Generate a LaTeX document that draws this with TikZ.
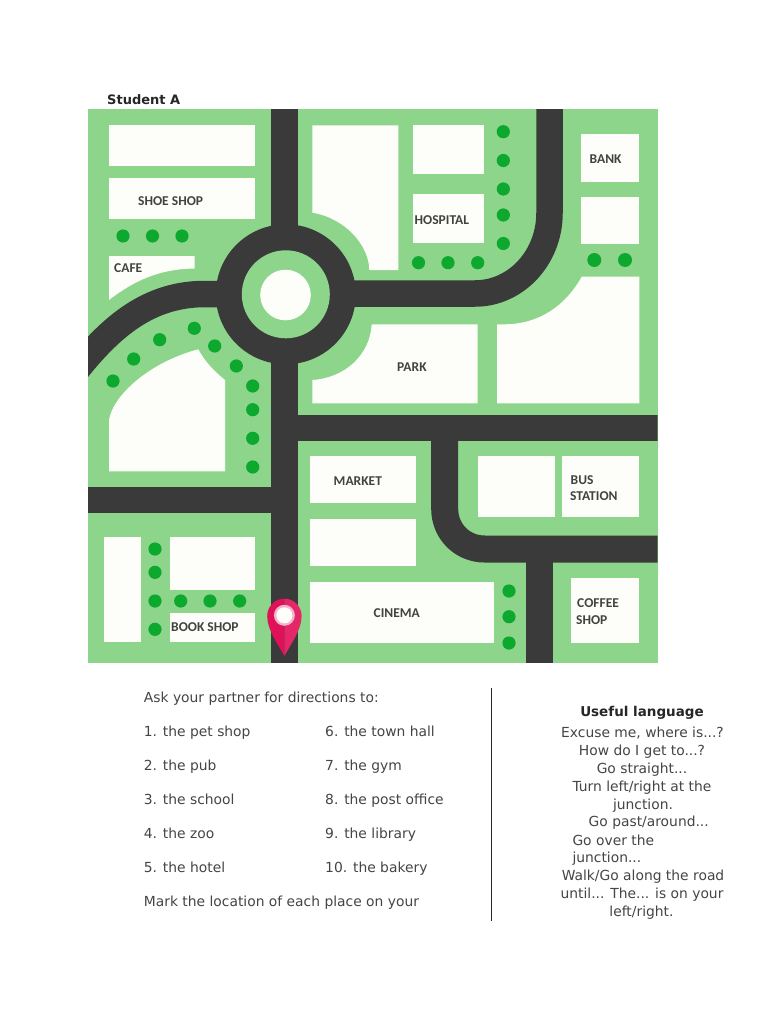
\documentclass[tikz,border=0pt]{standalone}
\usepackage{fontspec}
\setmainfont{DejaVu Sans}
\newfontfamily\lblfont{Carlito}
\definecolor{mapgreen}{HTML}{8DD58A}
\definecolor{road}{HTML}{3A3A3A}
\definecolor{tree}{HTML}{0DA82E}
\definecolor{plot}{HTML}{FDFEFA}
\definecolor{bodytxt}{HTML}{454545}
\definecolor{pinA}{HTML}{DF1259}
\definecolor{pinB}{HTML}{E52669}
\definecolor{pinring}{HTML}{F2B5CC}
\tikzset{
  x=1pt,y=-1pt,
  plotshape/.style={fill=plot,draw=none},
  roadline/.style={draw=road,line width=26.5pt},
  treedot/.style={fill=tree,draw=none},
  lbl/.style={anchor=base west,inner sep=0pt,text=black!74,font=\lblfont\bfseries\fontsize{13.5}{16}\selectfont},
  body/.style={anchor=base west,inner sep=0pt,text=bodytxt,font=\fontsize{13.85}{16}\selectfont},
  cbody/.style={body,anchor=base},
}
\begin{document}
\begin{tikzpicture}
\useasboundingbox[fill=white] (0,0) rectangle (768,1024);
\fill[mapgreen] (88,109.5) rectangle (657.5,662.8);
\begin{scope}
\clip (88,109.5) rectangle (657.5,662.8);
% roads
\draw[roadline,line width=27pt] (284.5,100) -- (284.5,670);
\draw[roadline] (280,294) -- (205,294) .. controls (150,294) and (112,325) .. (75,372);
\draw[roadline] (290,293.5) -- (475,293.5) .. controls (516,293.5) and (549.5,257.5) .. (549.5,213) -- (549.5,100);
\draw[roadline] (284,428.2) -- (670,428.2);
\draw[roadline] (80,500) -- (284,500);
\draw[roadline,line width=27pt] (444.7,428) -- (444.7,509) .. controls (444.7,531) and (462,549) .. (484.7,549) -- (670,549);
\draw[roadline,line width=27pt] (539.4,549) -- (539.4,670);
\end{scope}
% roundabout
\fill[road] (285.8,294.3) circle (70);
\fill[mapgreen] (285.8,294.3) circle (44);
\fill[plot] (285.5,295) circle (25.3);
% plots
\fill[plotshape] (109,125) rectangle (255,166);
\fill[plotshape] (109,178.5) rectangle (255,219);
\fill[plotshape] (109,256) -- (194.5,256) -- (194.5,268.5) .. controls (160,269) and (135,280) .. (109,300) -- cycle;
\fill[plotshape] (312.3,125.5) -- (398.3,125.5) -- (398.3,270) -- (369.3,270) .. controls (369,245) and (345,218) .. (312.3,212.7) -- cycle;
\fill[plotshape] (412.7,125) rectangle (483.7,174);
\fill[plotshape] (412.7,193.7) rectangle (483.7,242.7);
\fill[plotshape] (581.3,134.3) rectangle (639.3,181.7);
\fill[plotshape] (581.3,197) rectangle (639.3,243.7);
\fill[plotshape] (581.7,276.7) -- (639.3,276.7) -- (639.3,403.3) -- (497,403.3) -- (497,324.3) -- (505,324.3) .. controls (540,324) and (566,305) .. cycle;
\fill[plotshape] (312.3,380) .. controls (345,378) and (370,355) .. (371.7,324.3) -- (477.7,324.3) -- (477.7,403.3) -- (312.3,403.3) -- cycle;
\fill[plotshape] (109,471.3) -- (109,420) .. controls (113,395) and (150,362) .. (198.3,349.3) .. controls (205,362) and (215,372) .. (225,380) -- (225,471.3) -- cycle;
\fill[plotshape] (104.3,537) rectangle (140.7,642);
\fill[plotshape] (170.3,537) rectangle (255,590);
\fill[plotshape] (170.3,613) rectangle (255,642);
\fill[plotshape] (310,456) rectangle (416.3,503);
\fill[plotshape] (310,519) rectangle (416.3,566);
\fill[plotshape] (310,582.3) rectangle (494,643.3);
\fill[plotshape] (477.7,456) rectangle (555,517);
\fill[plotshape] (562,456) rectangle (639.3,517);
\fill[plotshape] (571,578) rectangle (639.3,643.3);
% trees
\foreach \px/\py in {123/236,152.5/236,182/236,
  503.3/131.7,503.3/160.5,503.3/189,503.3/215,503.3/243.5,
  418.5/262.7,448/262.7,477.7/262.7,
  113/381,133.7/359,159.7/339.7,194.3/328.3,214.7/346,236.3/366,
  252.7/386,252.7/409.7,252.7/438.3,252.7/467,
  155/549,155/572.3,155/601,155/629.3,180.7/601,210/601,239.7/601,
  509/591,509/616.7,509/643}
  \fill[treedot] (\px,\py) circle (6.6);
\fill[treedot] (594.3,260) circle (7);
\fill[treedot] (625,260) circle (7);
% pin
\fill[pinA] (284.4,656) .. controls (278,644) and (267.2,630) .. (267.2,616) .. controls (267.2,606.5) and (274.8,598.7) .. (284.4,598.7) -- cycle;
\fill[pinB] (284.4,656) .. controls (290.8,644) and (301.6,630) .. (301.6,616) .. controls (301.6,606.5) and (294,598.7) .. (284.4,598.7) -- cycle;
\fill[pinring] (284.4,615.3) circle (10.5);
\fill[plot] (284.4,615.3) circle (8);
% labels
\node[anchor=base west,inner sep=0pt,text=black!85,font=\bfseries\fontsize{13}{16}\selectfont] (title) at (107,104.5) {Student A};
\node[lbl] (lshoe) at (138,205.5) {SHOE SHOP};
\node[lbl] (lcafe) at (114,272.5) {CAFE};
\node[lbl] (lhosp) at (414.5,225) {HOSPITAL};
\node[lbl] (lbank) at (589.5,163.5) {BANK};
\node[lbl] (lpark) at (397,371) {PARK};
\node[lbl] (lmarket) at (333.5,485.5) {MARKET};
\node[lbl] (lbus) at (570.5,484) {BUS};
\node[lbl] (lstation) at (570,500) {STATION};
\node[lbl] (lcinema) at (373.5,617) {CINEMA};
\node[lbl] (lcoffee) at (577,607.5) {COFFEE};
\node[lbl] (lshop) at (576,624) {SHOP};
\node[lbl] (lbook) at (171,631.5) {BOOK SHOP};
% exercise text
\node[body] (ask) at (143.7,702) {Ask your partner for directions to:};
\node[body] (i1) at (143.7,736.7) {1. the pet shop};
\node[body] (i2) at (143.7,770.5) {2. the pub};
\node[body] (i3) at (143.7,804.7) {3. the school};
\node[body] (i4) at (143.7,838.7) {4. the zoo};
\node[body] (i5) at (143.7,872.7) {5. the hotel};
\node[body] (i6) at (325,736.7) {6. the town hall};
\node[body] (i7) at (325,770.5) {7. the gym};
\node[body] (i8) at (325,804.7) {8. the post office};
\node[body] (i9) at (325,838.7) {9. the library};
\node[body] (i10) at (325,872.7) {10. the bakery};
\node[body] (mark) at (143.7,906.7) {Mark the location of each place on your};
% divider
\coordinate (divtop) at (491.3,688);
\coordinate (divbot) at (491.3,921);
\draw[line width=1pt,black!85] (divtop) -- (divbot);
% useful language
\node[cbody,text=black!85,font=\bfseries\fontsize{13.5}{16}\selectfont] (ul) at (642,716) {Useful language};
\node[cbody] (u1) at (642.5,737.5) {Excuse me, where is...?};
\node[cbody] (u2) at (642,755) {How do I get to...?};
\node[cbody] (u3) at (642,773.7) {Go straight...};
\node[cbody] (u4) at (642,791) {Turn left/right at the};
\node[cbody] (u5) at (643,809) {junction.};
\node[cbody] (u6) at (648.7,826) {Go past/around...};
\node[body] (u7) at (572.3,845) {Go over the};
\node[body] (u8) at (572.3,862.3) {junction...};
\node[cbody] (u9) at (643,880.7) {Walk/Go along the road};
\node[cbody] (u10) at (642,898) {until... The... is on your};
\node[cbody] (u11) at (641.5,916.7) {left/right.};
\end{tikzpicture}
\end{document}
